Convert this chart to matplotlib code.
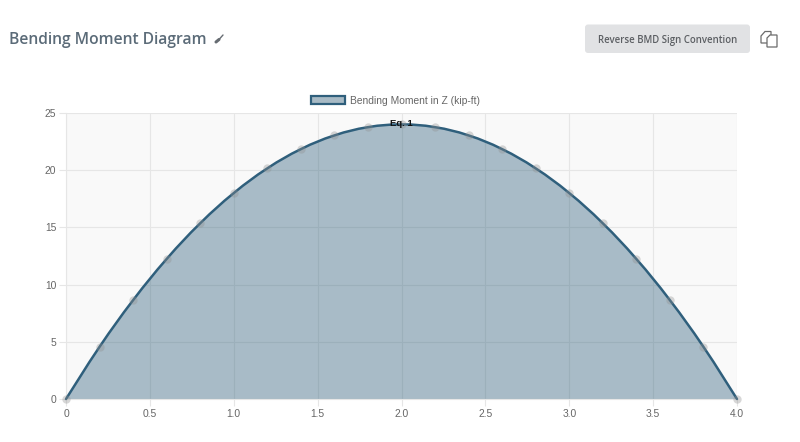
import matplotlib
matplotlib.use("Agg")
import matplotlib.pyplot as plt
from matplotlib.path import Path
from matplotlib.patches import FancyBboxPatch, Patch, PathPatch, Polygon

# bending moment
positions = [0, 0.2, 0.4, 0.6, 0.8, 1.0, 1.2, 1.4, 1.6, 1.8, 2.0,
             2.2, 2.4, 2.6, 2.8, 3.0, 3.2, 3.4, 3.6, 3.8, 4.0]
moments = [0, 4.56, 8.64, 12.24, 15.36, 18.0, 20.16, 21.84, 23.04, 23.76, 24.0,
           23.76, 23.04, 21.84, 20.16, 18.0, 15.36, 12.24, 8.64, 4.56, 0]
x_ticks = [0, 0.5, 1.0, 1.5, 2.0, 2.5, 3.0, 3.5, 4.0]
x_tick_labels = ["0", "0.5", "1.0", "1.5", "2.0", "2.5", "3.0", "3.5", "4.0"]
y_ticks = [0, 5, 10, 15, 20, 25]
series_label = "Bending Moment in Z (kip-ft)"
title_text = "Bending Moment Diagram"
button_text = "Reverse BMD Sign Convention"
note_text = "Eq. 1"

W, H = 800, 442
LINE = "#2f5f7c"
FILL = "#a8bac5"
GRID = "#e6e6e6"
TEXT = "#666666"


def smooth_verts(xs, ys, tension=0.4):
    # bezier through the points, control points from the neighbours
    verts = [(xs[0], ys[0])]
    codes = [Path.MOVETO]
    n = len(xs)
    for i in range(n - 1):
        prev_i = max(i - 1, 0)
        next_i = min(i + 2, n - 1)
        c1 = (xs[i] + (xs[i + 1] - xs[prev_i]) * tension / 2, ys[i] + (ys[i + 1] - ys[prev_i]) * tension / 2)
        c2 = (xs[i + 1] - (xs[next_i] - xs[i]) * tension / 2, ys[i + 1] - (ys[next_i] - ys[i]) * tension / 2)
        verts += [c1, c2, (xs[i + 1], ys[i + 1])]
        codes += [Path.CURVE4] * 3
    return verts, codes


fig = plt.figure(figsize=(W / 100, H / 100), dpi=100, facecolor="white")

# page overlay in pixel coordinates, for header and button
page = fig.add_axes([0, 0, 1, 1], zorder=3)
page.set_xlim(0, W)
page.set_ylim(H, 0)
page.axis("off")

page.text(9, 40, title_text, fontsize=11.25, family="Open Sans", weight="semibold",
          color="#5b6b78", va="center", ha="left")

# brush icon
page.plot([216, 219], [42, 39.5], color="#666c72", lw=2.2, solid_capstyle="round")
page.plot([219, 223], [39.5, 35], color="#666c72", lw=1.0, solid_capstyle="round")

button = FancyBboxPatch((585, 24.5), 165, 28.5, boxstyle="round,pad=0,rounding_size=3",
                        facecolor="#e1e2e4", edgecolor="none")
page.add_patch(button)
page.text(667.5, 40, button_text, fontsize=6.95, family="Open Sans", weight="semibold",
          color="#5c5f63", va="center", ha="center")

# copy icon
page.add_patch(Polygon([(761, 43), (761, 36), (765, 31.5), (771, 31.5), (771, 43)], closed=True,
                       facecolor="white", edgecolor="#6b6b6b", lw=0.9))
page.add_patch(Polygon([(767, 47), (767, 38), (770, 35), (777, 35), (777, 47)], closed=True,
                       facecolor="white", edgecolor="#6b6b6b", lw=0.9))

ax = fig.add_axes([66 / W, 1 - 399 / H, 671 / W, 286 / H], zorder=1)
ax.set_facecolor("#f9f9f9")
ax.set_xlim(0, 4)
ax.set_ylim(0, 25)
ax.grid(True, color=GRID, lw=0.8, zorder=1)
ax.set_axisbelow(True)

verts, codes = smooth_verts(positions, moments)
area_path = Path(verts + [(positions[-1], 0), (positions[0], 0), (positions[0], 0)],
                 codes + [Path.LINETO, Path.LINETO, Path.CLOSEPOLY])
ax.add_patch(PathPatch(area_path, facecolor=LINE, alpha=0.4, lw=0, zorder=2))
ax.add_patch(PathPatch(Path(verts, codes), facecolor="none", edgecolor=LINE, lw=1.8,
                       zorder=4, clip_on=False, capstyle="round"))
ax.plot(positions, moments, ls="none", marker="o", ms=6, mfc="#8f8f8f", mec="none",
        alpha=0.35, zorder=5, clip_on=False)

ax.text(2.0, 24.1, note_text, fontsize=6.8, weight="bold", color="#111111",
        family="Liberation Sans", ha="center", va="center", zorder=6)

ax.set_xticks(x_ticks)
ax.set_xticklabels(x_tick_labels)
ax.set_yticks(y_ticks)
ax.tick_params(axis="both", length=5, width=0.8, color=GRID, labelcolor=TEXT, labelsize=7.4, pad=2)
for label in ax.get_xticklabels() + ax.get_yticklabels():
    label.set_family("Liberation Sans")
for side in ax.spines:
    ax.spines[side].set_visible(False)
ax.spines["left"].set_visible(True)
ax.spines["left"].set_color(GRID)
ax.spines["bottom"].set_visible(True)
ax.spines["bottom"].set_color(GRID)

handle = Patch(facecolor=FILL, edgecolor=LINE, lw=1.6, label=series_label)
fig.legend(handles=[handle], loc="center", bbox_to_anchor=(395.5 / W, 1 - 100.5 / H), frameon=False,
           handlelength=3.3, handleheight=0.95, handletextpad=0.5, borderpad=0,
           prop={"family": "Liberation Sans", "size": 7.4}, labelcolor=TEXT)

fig.savefig("out.png", dpi=100)
